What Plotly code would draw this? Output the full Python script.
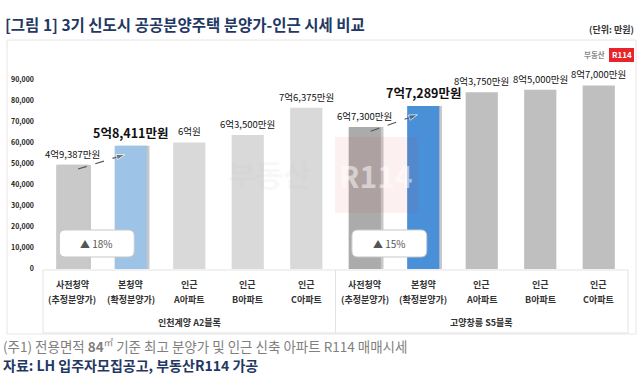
import plotly.graph_objects as go

# ---- data ----
cat_line1 = ["사전청약", "본청약", "인근", "인근", "인근", "사전청약", "본청약", "인근", "인근", "인근"]
cat_line2 = ["(추정분양가)", "(확정분양가)", "A아파트", "B아파트", "C아파트",
             "(추정분양가)", "(확정분양가)", "A아파트", "B아파트", "C아파트"]
values = [49387, 58411, 60000, 63500, 76375, 67300, 77289, 83750, 85000, 87000]
value_labels = ["4억9,387만원", "5억8,411만원", "6억원", "6억3,500만원", "7억6,375만원",
                "6억7,300만원", "7억7,289만원", "8억3,750만원", "8억5,000만원", "8억7,000만원"]
groups = ["인천계양 A2블록", "고양창릉 S5블록"]
pct_labels = ["▲ 18%", "▲ 15%"]
ytick_vals = [0, 10000, 20000, 30000, 40000, 50000, 60000, 70000, 80000, 90000]
highlight_idx = [0, 1, 5, 6]

bar_colors = ["#C9C9C9", "#9DC3E6", "#D9D9D9", "#D9D9D9", "#D9D9D9",
              "#ABABAB", "#4A90D9", "#BFBFBF", "#BFBFBF", "#BFBFBF"]

FONT = "Noto Sans CJK KR"
W, H = 640, 380
L, R, T, B = 43, 12, 58, 111
PW, PH = W - L - R, H - T - B


def px(x):
    return (x - L) / PW


def py(y):
    return (H - B - y) / PH


xs = list(range(len(values)))
fig = go.Figure()
# soft shadows behind highlighted bars
fig.add_trace(go.Bar(x=[i + 0.045 for i in highlight_idx], y=[values[i] for i in highlight_idx],
                     marker=dict(color="rgba(0,0,0,0.22)", line=dict(width=0)),
                     width=0.55, hoverinfo="skip", showlegend=False))
fig.add_trace(go.Bar(x=xs, y=values, marker=dict(color=bar_colors, line=dict(width=0)),
                     width=0.55, hoverinfo="skip", showlegend=False))

# dashed arrows from pre-subscription to main subscription
for gi, start in enumerate([0, 5]):
    x0, y0 = start + 0.1, values[start] - 2000
    x1, y1 = start + 1 - 0.1, values[start + 1] - 4200
    fig.add_trace(go.Scatter(x=[x0, x1], y=[y0, y1], mode="lines+markers",
                             line=dict(color="#555555", width=1.2, dash="dash"),
                             marker=dict(symbol=["circle", "arrow"], size=[0, 9], angleref="previous",
                                         color="#555555"),
                             hoverinfo="skip", showlegend=False))

annotations = []
shapes = []

# value labels
for i, (v, t) in enumerate(zip(values, value_labels)):
    big = i in (1, 6)
    annotations.append(dict(x=i, y=v, xref="x", yref="y", text=t, showarrow=False,
                            yshift=13 if big else 11,
                            font=dict(family=FONT, size=12.5 if big else 9.5, color="#111111",
                                      weight="bold" if big else "normal")))

# percentage boxes (rounded rectangles)
for gi, start in enumerate([0, 5]):
    cx = start + 0.42
    hw = 0.64
    y0v, y1v = 5700, 18500
    rx, ry = 0.1, 2800
    xa, xb = cx - hw, cx + hw
    path = (f"M {xa+rx},{y0v} L {xb-rx},{y0v} Q {xb},{y0v} {xb},{y0v+ry} "
            f"L {xb},{y1v-ry} Q {xb},{y1v} {xb-rx},{y1v} L {xa+rx},{y1v} "
            f"Q {xa},{y1v} {xa},{y1v-ry} L {xa},{y0v+ry} Q {xa},{y0v} {xa+rx},{y0v} Z")
    shapes.append(dict(type="path", path=path, xref="x", yref="y",
                       fillcolor="white", line=dict(color="#C8C8C8", width=1), layer="above"))
    annotations.append(dict(x=cx, y=(y0v + y1v) / 2, xref="x", yref="y", text=pct_labels[gi],
                            showarrow=False, font=dict(family=FONT, size=10, color="#555555")))

# category box below axis
shapes.append(dict(type="rect", xref="paper", yref="paper", x0=0, x1=1, y0=py(333), y1=py(270),
                   line=dict(color="#E3E3E3", width=1), fillcolor="rgba(0,0,0,0)"))
shapes.append(dict(type="line", xref="x", yref="paper", x0=4.5, x1=4.5, y0=py(333), y1=py(270),
                   line=dict(color="#E3E3E3", width=1)))
# outer frame
shapes.append(dict(type="rect", xref="paper", yref="paper", x0=px(7), x1=px(636), y0=py(334), y1=py(40),
                   line=dict(color="#E6E6E6", width=1), fillcolor="rgba(0,0,0,0)", layer="below"))

for i in xs:
    annotations.append(dict(x=i, y=py(284), xref="x", yref="paper", yanchor="middle", text=cat_line1[i],
                            showarrow=False, font=dict(family=FONT, size=9, color="#333333", weight="bold")))
    annotations.append(dict(x=i, y=py(299), xref="x", yref="paper", yanchor="middle", text=cat_line2[i],
                            showarrow=False, font=dict(family=FONT, size=9, color="#333333", weight="bold")))
for gi, g in enumerate(groups):
    annotations.append(dict(x=gi * 5 + 2, y=py(322), xref="x", yref="paper", yanchor="middle", text=g,
                            showarrow=False, font=dict(family=FONT, size=9, color="#333333", weight="bold")))

# watermark
annotations.append(dict(x=px(269), y=py(173), xref="paper", yref="paper", xanchor="center", yanchor="middle",
                        text="부동산", showarrow=False,
                        font=dict(family=FONT, size=30, color="rgba(200,200,200,0.14)", weight="bold")))
shapes.append(dict(type="rect", xref="paper", yref="paper", x0=px(335), x1=px(418), y0=py(213), y1=py(137),
                   fillcolor="rgba(230,40,40,0.07)", line=dict(width=0), layer="above"))
annotations.append(dict(x=px(376), y=py(175), xref="paper", yref="paper", xanchor="center", yanchor="middle",
                        text="R114", showarrow=False,
                        font=dict(family=FONT, size=30, color="rgba(255,255,255,0.5)", weight="bold")))

# title / unit / logo
annotations.append(dict(x=px(3), y=py(24), xref="paper", yref="paper", xanchor="left", yanchor="middle",
                        text="[그림 1] 3기 신도시 공공분양주택 분양가-인근 시세 비교",
                        showarrow=False, font=dict(family=FONT, size=15.5, color="#1F3864", weight="bold")))
annotations.append(dict(x=px(636), y=py(29), xref="paper", yref="paper", xanchor="right", yanchor="middle",
                        text="(단위: 만원)",
                        showarrow=False, font=dict(family=FONT, size=9, color="#333333", weight="bold")))
annotations.append(dict(x=px(607), y=py(55), xref="paper", yref="paper", xanchor="right", yanchor="middle",
                        text="부동산",
                        showarrow=False, font=dict(family=FONT, size=7.5, color="#888888", weight="bold")))
shapes.append(dict(type="rect", xref="paper", yref="paper", x0=px(609), x1=px(634), y0=py(62), y1=py(48),
                   fillcolor="#E8232A", line=dict(width=0)))
annotations.append(dict(x=px(621.5), y=py(55), xref="paper", yref="paper", xanchor="center", yanchor="middle",
                        text="R114",
                        showarrow=False, font=dict(family=FONT, size=8, color="white", weight="bold")))

# footnotes
annotations.append(dict(x=px(1), y=py(345), xref="paper", yref="paper", xanchor="left", yanchor="middle",
                        text="(주1) 전용면적 <b>84</b><sup>㎡</sup> 기준 최고 분양가 및 인근 신축 아파트 R114 매매시세",
                        showarrow=False, font=dict(family=FONT, size=13.5, color="#7F7F7F")))
annotations.append(dict(x=px(1), y=py(365), xref="paper", yref="paper", xanchor="left", yanchor="middle",
                        text="자료: LH 입주자모집공고, 부동산R114 가공",
                        showarrow=False, font=dict(family=FONT, size=14, color="#1F3864", weight="bold")))

fig.update_layout(
    width=W, height=H, margin=dict(l=L, r=R, t=T, b=B, autoexpand=False),
    paper_bgcolor="white", plot_bgcolor="white",
    shapes=shapes, annotations=annotations,
    barmode="overlay", showlegend=False,
    xaxis=dict(range=[-0.5, 9.5], showticklabels=False, showgrid=False, zeroline=False, showline=False,
               fixedrange=True, automargin=False),
    yaxis=dict(range=[0, 100000], tickvals=ytick_vals, tickformat=",", showgrid=False, zeroline=False,
               showline=False, ticks="", ticklabelstandoff=8, automargin=False,
               tickfont=dict(family=FONT, size=7, color="#222222", weight="bold"), fixedrange=True),
)

fig.write_html("out.html", config={"displayModeBar": False},
               post_script="document.body.style.margin='0';")
